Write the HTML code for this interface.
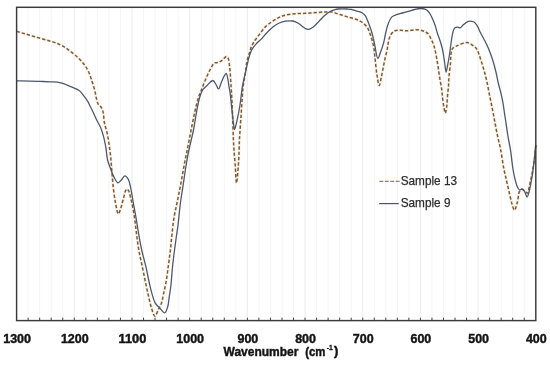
<!DOCTYPE html>
<html><head><meta charset="utf-8"><style>
html,body{margin:0;padding:0;background:#fff;width:550px;height:368px;overflow:hidden}
svg{display:block}
</style></head><body>
<svg width="550" height="368" viewBox="0 0 550 368">
<rect width="550" height="368" fill="#fff"/>
<line x1="524.26" y1="7.3" x2="524.26" y2="320.6" stroke="#f5f5f5" stroke-width="1"/><line x1="512.72" y1="7.3" x2="512.72" y2="320.6" stroke="#f5f5f5" stroke-width="1"/><line x1="501.19" y1="7.3" x2="501.19" y2="320.6" stroke="#f5f5f5" stroke-width="1"/><line x1="489.65" y1="7.3" x2="489.65" y2="320.6" stroke="#f5f5f5" stroke-width="1"/><line x1="478.11" y1="7.3" x2="478.11" y2="320.6" stroke="#ececec" stroke-width="1"/><line x1="466.57" y1="7.3" x2="466.57" y2="320.6" stroke="#f5f5f5" stroke-width="1"/><line x1="455.04" y1="7.3" x2="455.04" y2="320.6" stroke="#f5f5f5" stroke-width="1"/><line x1="443.50" y1="7.3" x2="443.50" y2="320.6" stroke="#f5f5f5" stroke-width="1"/><line x1="431.96" y1="7.3" x2="431.96" y2="320.6" stroke="#f5f5f5" stroke-width="1"/><line x1="420.42" y1="7.3" x2="420.42" y2="320.6" stroke="#ececec" stroke-width="1"/><line x1="408.88" y1="7.3" x2="408.88" y2="320.6" stroke="#f5f5f5" stroke-width="1"/><line x1="397.35" y1="7.3" x2="397.35" y2="320.6" stroke="#f5f5f5" stroke-width="1"/><line x1="385.81" y1="7.3" x2="385.81" y2="320.6" stroke="#f5f5f5" stroke-width="1"/><line x1="374.27" y1="7.3" x2="374.27" y2="320.6" stroke="#f5f5f5" stroke-width="1"/><line x1="362.73" y1="7.3" x2="362.73" y2="320.6" stroke="#ececec" stroke-width="1"/><line x1="351.20" y1="7.3" x2="351.20" y2="320.6" stroke="#f5f5f5" stroke-width="1"/><line x1="339.66" y1="7.3" x2="339.66" y2="320.6" stroke="#f5f5f5" stroke-width="1"/><line x1="328.12" y1="7.3" x2="328.12" y2="320.6" stroke="#f5f5f5" stroke-width="1"/><line x1="316.58" y1="7.3" x2="316.58" y2="320.6" stroke="#f5f5f5" stroke-width="1"/><line x1="305.04" y1="7.3" x2="305.04" y2="320.6" stroke="#ececec" stroke-width="1"/><line x1="293.51" y1="7.3" x2="293.51" y2="320.6" stroke="#f5f5f5" stroke-width="1"/><line x1="281.97" y1="7.3" x2="281.97" y2="320.6" stroke="#f5f5f5" stroke-width="1"/><line x1="270.43" y1="7.3" x2="270.43" y2="320.6" stroke="#f5f5f5" stroke-width="1"/><line x1="258.89" y1="7.3" x2="258.89" y2="320.6" stroke="#f5f5f5" stroke-width="1"/><line x1="247.36" y1="7.3" x2="247.36" y2="320.6" stroke="#ececec" stroke-width="1"/><line x1="235.82" y1="7.3" x2="235.82" y2="320.6" stroke="#f5f5f5" stroke-width="1"/><line x1="224.28" y1="7.3" x2="224.28" y2="320.6" stroke="#f5f5f5" stroke-width="1"/><line x1="212.74" y1="7.3" x2="212.74" y2="320.6" stroke="#f5f5f5" stroke-width="1"/><line x1="201.20" y1="7.3" x2="201.20" y2="320.6" stroke="#f5f5f5" stroke-width="1"/><line x1="189.67" y1="7.3" x2="189.67" y2="320.6" stroke="#ececec" stroke-width="1"/><line x1="178.13" y1="7.3" x2="178.13" y2="320.6" stroke="#f5f5f5" stroke-width="1"/><line x1="166.59" y1="7.3" x2="166.59" y2="320.6" stroke="#f5f5f5" stroke-width="1"/><line x1="155.05" y1="7.3" x2="155.05" y2="320.6" stroke="#f5f5f5" stroke-width="1"/><line x1="143.52" y1="7.3" x2="143.52" y2="320.6" stroke="#f5f5f5" stroke-width="1"/><line x1="131.98" y1="7.3" x2="131.98" y2="320.6" stroke="#ececec" stroke-width="1"/><line x1="120.44" y1="7.3" x2="120.44" y2="320.6" stroke="#f5f5f5" stroke-width="1"/><line x1="108.90" y1="7.3" x2="108.90" y2="320.6" stroke="#f5f5f5" stroke-width="1"/><line x1="97.36" y1="7.3" x2="97.36" y2="320.6" stroke="#f5f5f5" stroke-width="1"/><line x1="85.83" y1="7.3" x2="85.83" y2="320.6" stroke="#f5f5f5" stroke-width="1"/><line x1="74.29" y1="7.3" x2="74.29" y2="320.6" stroke="#ececec" stroke-width="1"/><line x1="62.75" y1="7.3" x2="62.75" y2="320.6" stroke="#f5f5f5" stroke-width="1"/><line x1="51.21" y1="7.3" x2="51.21" y2="320.6" stroke="#f5f5f5" stroke-width="1"/><line x1="39.68" y1="7.3" x2="39.68" y2="320.6" stroke="#f5f5f5" stroke-width="1"/><line x1="28.14" y1="7.3" x2="28.14" y2="320.6" stroke="#f5f5f5" stroke-width="1"/>
<path d="M16.60,31.40 C20.40,32.50 24.12,33.56 28.00,34.70 C32.05,35.89 36.36,37.22 40.40,38.40 C44.25,39.52 48.30,40.51 51.70,41.60 C54.56,42.52 57.08,43.29 59.50,44.40 C61.76,45.44 63.70,46.61 65.80,48.00 C68.10,49.51 70.52,51.46 72.70,53.20 C74.74,54.83 76.70,56.36 78.50,58.10 C80.26,59.80 81.91,61.60 83.40,63.50 C84.87,65.37 86.30,67.44 87.40,69.40 C88.39,71.17 89.14,73.01 89.80,74.70 C90.38,76.19 90.64,77.25 91.20,79.00 C92.07,81.71 93.58,85.93 94.50,89.40 C95.40,92.80 95.91,96.79 96.70,99.60 C97.27,101.64 97.62,103.52 98.50,104.80 C99.19,105.81 100.37,105.97 101.10,107.00 C102.08,108.39 102.79,110.62 103.30,112.80 C103.92,115.41 103.64,118.55 104.20,121.70 C104.85,125.38 106.35,129.44 107.20,133.50 C108.09,137.76 108.79,142.43 109.40,146.70 C109.97,150.71 110.39,154.27 110.80,158.40 C111.27,163.04 111.56,168.16 112.00,173.20 C112.46,178.48 112.86,184.15 113.50,189.40 C114.11,194.40 114.80,199.63 115.70,204.00 C116.45,207.64 117.35,213.81 118.30,213.90 C118.96,213.96 119.79,211.14 120.40,209.50 C121.12,207.57 121.63,205.07 122.20,203.00 C122.72,201.12 123.19,199.48 123.70,197.60 C124.25,195.56 124.65,192.73 125.40,191.20 C125.89,190.21 126.52,188.99 127.10,189.00 C127.75,189.01 128.56,190.64 129.10,191.80 C129.82,193.33 130.14,195.74 130.60,197.60 C131.03,199.33 131.35,200.48 131.80,202.60 C132.57,206.25 133.71,212.39 134.50,217.60 C135.36,223.22 135.95,229.59 136.70,235.20 C137.39,240.35 137.90,244.87 138.80,250.00 C139.79,255.63 141.28,261.73 142.50,267.60 C143.72,273.47 145.00,280.05 146.10,285.20 C146.96,289.24 147.65,292.36 148.50,296.00 C149.38,299.73 150.16,303.80 151.30,307.30 C152.33,310.48 153.64,316.14 154.90,316.20 C156.02,316.25 157.28,311.74 158.40,309.50 C159.51,307.28 160.77,305.24 161.60,302.80 C162.52,300.12 162.83,297.14 163.50,294.00 C164.28,290.38 165.23,286.61 166.00,282.30 C166.93,277.04 167.74,270.31 168.50,264.70 C169.19,259.58 169.83,254.91 170.40,250.00 C170.97,245.08 171.33,240.34 171.90,235.20 C172.52,229.58 173.11,223.07 174.00,217.60 C174.79,212.76 175.96,208.13 176.80,204.00 C177.50,200.55 178.08,197.62 178.70,194.50 C179.31,191.46 179.91,188.62 180.50,185.50 C181.14,182.14 181.74,178.62 182.40,175.00 C183.10,171.13 183.83,167.00 184.60,163.00 C185.37,159.00 186.23,154.87 187.00,151.00 C187.72,147.38 188.43,143.96 189.10,140.50 C189.76,137.13 190.35,133.83 191.00,130.50 C191.65,127.17 192.33,123.74 193.00,120.50 C193.63,117.42 194.25,114.41 194.90,111.50 C195.52,108.75 196.13,106.07 196.80,103.50 C197.43,101.08 198.10,98.52 198.80,96.50 C199.35,94.91 199.85,93.95 200.50,92.30 C201.43,89.96 202.65,86.65 203.80,83.80 C204.98,80.88 206.21,77.79 207.50,75.00 C208.71,72.38 210.02,69.65 211.30,67.50 C212.33,65.77 213.12,63.79 214.40,63.00 C215.46,62.35 216.85,62.92 218.10,62.50 C219.55,62.01 221.14,60.99 222.50,60.00 C223.87,59.00 225.25,56.49 226.30,56.50 C227.04,56.51 227.70,57.36 228.20,58.30 C229.09,59.97 229.19,63.15 229.60,66.50 C230.24,71.73 230.67,80.23 231.10,86.70 C231.50,92.69 231.82,98.19 232.10,104.00 C232.39,109.89 232.58,115.83 232.80,121.80 C233.02,127.83 233.16,134.84 233.40,140.00 C233.58,143.83 233.74,146.35 234.00,150.00 C234.31,154.43 234.81,159.53 235.20,164.70 C235.64,170.47 235.97,182.99 236.50,183.00 C237.03,183.01 237.96,170.47 238.40,164.70 C238.79,159.54 238.93,154.43 239.10,150.00 C239.24,146.35 239.25,143.07 239.40,140.00 C239.53,137.37 239.70,135.62 239.90,132.70 C240.20,128.34 240.63,121.84 241.00,116.40 C241.37,110.94 241.73,105.18 242.10,100.00 C242.43,95.33 242.58,91.07 243.10,86.70 C243.62,82.41 244.55,78.23 245.20,74.00 C245.85,69.80 246.19,65.20 247.00,61.40 C247.68,58.18 248.70,55.22 249.50,52.60 C250.15,50.46 250.59,48.68 251.40,46.80 C252.22,44.88 253.19,43.12 254.40,41.20 C255.81,38.97 257.70,36.65 259.50,34.30 C261.42,31.79 263.43,28.74 265.60,26.60 C267.52,24.70 269.63,23.34 271.70,21.90 C273.70,20.51 275.80,19.15 277.80,18.10 C279.59,17.16 281.05,16.45 283.10,15.80 C285.73,14.97 289.37,14.28 292.40,13.90 C295.23,13.54 297.93,13.63 300.70,13.50 C303.49,13.37 306.31,13.27 309.10,13.10 C311.88,12.93 314.79,12.69 317.40,12.50 C319.73,12.33 321.95,12.10 324.00,12.00 C325.78,11.91 327.46,11.89 329.00,11.90 C330.33,11.90 331.45,11.75 332.70,12.00 C334.08,12.27 335.38,13.09 336.90,13.60 C338.67,14.19 340.84,14.71 342.70,15.30 C344.43,15.85 345.96,16.47 347.70,17.00 C349.58,17.57 351.78,18.06 353.60,18.60 C355.18,19.07 356.53,19.34 358.00,20.00 C359.63,20.73 361.41,21.74 362.90,22.90 C364.41,24.07 365.91,25.47 367.00,27.00 C368.06,28.48 368.73,30.24 369.40,31.90 C370.05,33.51 370.47,35.10 371.00,36.80 C371.57,38.62 372.21,40.61 372.70,42.50 C373.17,44.34 373.56,45.93 373.90,48.00 C374.33,50.62 374.50,53.48 374.90,57.00 C375.47,62.01 376.15,70.01 377.00,75.20 C377.65,79.14 378.44,85.49 379.20,85.50 C379.91,85.51 380.66,80.02 381.40,76.70 C382.35,72.44 383.29,66.76 384.30,62.00 C385.26,57.47 386.60,52.39 387.30,48.80 C387.77,46.36 387.81,44.74 388.30,42.60 C388.84,40.23 389.29,37.23 390.50,35.20 C391.58,33.38 393.22,31.59 394.90,30.80 C396.42,30.08 398.15,30.33 400.00,30.30 C402.21,30.27 404.86,30.88 407.30,30.80 C409.76,30.72 412.37,29.90 414.70,29.80 C416.77,29.71 418.72,29.69 420.60,30.10 C422.45,30.50 424.55,31.46 425.90,32.20 C426.83,32.71 427.38,33.00 428.10,33.80 C429.21,35.05 430.34,37.58 431.30,39.50 C432.24,41.38 433.12,43.21 433.80,45.20 C434.50,47.27 434.87,49.22 435.40,51.70 C436.10,54.96 436.83,59.09 437.50,63.10 C438.24,67.57 438.86,72.70 439.60,77.30 C440.30,81.66 441.33,86.56 441.80,90.00 C442.12,92.33 442.14,93.64 442.40,95.90 C442.75,98.98 443.23,103.67 443.80,106.80 C444.24,109.20 444.82,113.10 445.30,113.10 C445.78,113.10 446.35,109.20 446.70,106.80 C447.16,103.68 447.18,99.53 447.50,95.90 C447.82,92.26 448.37,88.32 448.60,85.00 C448.79,82.21 448.68,80.25 448.90,77.30 C449.20,73.28 450.15,67.31 450.50,63.10 C450.78,59.74 450.57,56.63 451.00,54.00 C451.34,51.92 451.63,49.72 452.50,48.50 C453.14,47.61 454.16,47.29 455.00,46.80 C455.79,46.34 456.42,46.04 457.40,45.60 C458.88,44.93 461.30,43.80 463.10,43.30 C464.64,42.87 466.07,42.38 467.50,42.60 C469.00,42.83 470.48,43.88 471.90,44.80 C473.42,45.79 475.16,46.92 476.30,48.40 C477.47,49.91 477.99,51.75 478.80,53.80 C479.81,56.35 480.75,59.55 481.70,62.60 C482.72,65.87 483.81,69.51 484.70,72.80 C485.53,75.86 486.16,78.35 486.90,81.70 C487.85,85.98 488.82,91.50 489.80,96.40 C490.78,101.30 491.87,106.36 492.80,111.10 C493.67,115.54 494.36,119.65 495.20,124.00 C496.06,128.48 496.98,133.36 497.90,137.60 C498.72,141.36 499.58,144.10 500.40,148.20 C501.52,153.76 502.54,162.06 503.70,168.00 C504.66,172.92 505.69,176.93 506.70,181.40 C507.72,185.89 508.82,190.76 509.80,194.90 C510.64,198.43 511.31,201.93 512.20,204.70 C512.88,206.82 513.63,210.21 514.40,210.20 C515.31,210.19 516.49,205.33 517.30,202.50 C518.25,199.19 518.25,193.66 519.50,191.50 C520.18,190.32 521.11,189.34 522.00,189.30 C522.94,189.26 524.02,190.86 525.00,191.50 C525.88,192.08 526.95,193.26 527.60,193.00 C528.45,192.65 528.57,189.75 529.00,188.00 C529.47,186.10 529.87,184.00 530.30,182.00 C530.73,180.00 531.16,178.21 531.60,176.00 C532.13,173.31 532.70,170.00 533.20,167.00 C533.70,164.00 534.19,161.28 534.60,158.00 C535.09,154.07 535.40,149.33 535.80,145.00" fill="none" stroke="#fcf3e7" stroke-width="3.2" stroke-linejoin="round"/>
<path d="M16.60,31.40 C20.40,32.50 24.12,33.56 28.00,34.70 C32.05,35.89 36.36,37.22 40.40,38.40 C44.25,39.52 48.30,40.51 51.70,41.60 C54.56,42.52 57.08,43.29 59.50,44.40 C61.76,45.44 63.70,46.61 65.80,48.00 C68.10,49.51 70.52,51.46 72.70,53.20 C74.74,54.83 76.70,56.36 78.50,58.10 C80.26,59.80 81.91,61.60 83.40,63.50 C84.87,65.37 86.30,67.44 87.40,69.40 C88.39,71.17 89.14,73.01 89.80,74.70 C90.38,76.19 90.64,77.25 91.20,79.00 C92.07,81.71 93.58,85.93 94.50,89.40 C95.40,92.80 95.91,96.79 96.70,99.60 C97.27,101.64 97.62,103.52 98.50,104.80 C99.19,105.81 100.37,105.97 101.10,107.00 C102.08,108.39 102.79,110.62 103.30,112.80 C103.92,115.41 103.64,118.55 104.20,121.70 C104.85,125.38 106.35,129.44 107.20,133.50 C108.09,137.76 108.79,142.43 109.40,146.70 C109.97,150.71 110.39,154.27 110.80,158.40 C111.27,163.04 111.56,168.16 112.00,173.20 C112.46,178.48 112.86,184.15 113.50,189.40 C114.11,194.40 114.80,199.63 115.70,204.00 C116.45,207.64 117.35,213.81 118.30,213.90 C118.96,213.96 119.79,211.14 120.40,209.50 C121.12,207.57 121.63,205.07 122.20,203.00 C122.72,201.12 123.19,199.48 123.70,197.60 C124.25,195.56 124.65,192.73 125.40,191.20 C125.89,190.21 126.52,188.99 127.10,189.00 C127.75,189.01 128.56,190.64 129.10,191.80 C129.82,193.33 130.14,195.74 130.60,197.60 C131.03,199.33 131.35,200.48 131.80,202.60 C132.57,206.25 133.71,212.39 134.50,217.60 C135.36,223.22 135.95,229.59 136.70,235.20 C137.39,240.35 137.90,244.87 138.80,250.00 C139.79,255.63 141.28,261.73 142.50,267.60 C143.72,273.47 145.00,280.05 146.10,285.20 C146.96,289.24 147.65,292.36 148.50,296.00 C149.38,299.73 150.16,303.80 151.30,307.30 C152.33,310.48 153.64,316.14 154.90,316.20 C156.02,316.25 157.28,311.74 158.40,309.50 C159.51,307.28 160.77,305.24 161.60,302.80 C162.52,300.12 162.83,297.14 163.50,294.00 C164.28,290.38 165.23,286.61 166.00,282.30 C166.93,277.04 167.74,270.31 168.50,264.70 C169.19,259.58 169.83,254.91 170.40,250.00 C170.97,245.08 171.33,240.34 171.90,235.20 C172.52,229.58 173.11,223.07 174.00,217.60 C174.79,212.76 175.96,208.13 176.80,204.00 C177.50,200.55 178.08,197.62 178.70,194.50 C179.31,191.46 179.91,188.62 180.50,185.50 C181.14,182.14 181.74,178.62 182.40,175.00 C183.10,171.13 183.83,167.00 184.60,163.00 C185.37,159.00 186.23,154.87 187.00,151.00 C187.72,147.38 188.43,143.96 189.10,140.50 C189.76,137.13 190.35,133.83 191.00,130.50 C191.65,127.17 192.33,123.74 193.00,120.50 C193.63,117.42 194.25,114.41 194.90,111.50 C195.52,108.75 196.13,106.07 196.80,103.50 C197.43,101.08 198.10,98.52 198.80,96.50 C199.35,94.91 199.85,93.95 200.50,92.30 C201.43,89.96 202.65,86.65 203.80,83.80 C204.98,80.88 206.21,77.79 207.50,75.00 C208.71,72.38 210.02,69.65 211.30,67.50 C212.33,65.77 213.12,63.79 214.40,63.00 C215.46,62.35 216.85,62.92 218.10,62.50 C219.55,62.01 221.14,60.99 222.50,60.00 C223.87,59.00 225.25,56.49 226.30,56.50 C227.04,56.51 227.70,57.36 228.20,58.30 C229.09,59.97 229.19,63.15 229.60,66.50 C230.24,71.73 230.67,80.23 231.10,86.70 C231.50,92.69 231.82,98.19 232.10,104.00 C232.39,109.89 232.58,115.83 232.80,121.80 C233.02,127.83 233.16,134.84 233.40,140.00 C233.58,143.83 233.74,146.35 234.00,150.00 C234.31,154.43 234.81,159.53 235.20,164.70 C235.64,170.47 235.97,182.99 236.50,183.00 C237.03,183.01 237.96,170.47 238.40,164.70 C238.79,159.54 238.93,154.43 239.10,150.00 C239.24,146.35 239.25,143.07 239.40,140.00 C239.53,137.37 239.70,135.62 239.90,132.70 C240.20,128.34 240.63,121.84 241.00,116.40 C241.37,110.94 241.73,105.18 242.10,100.00 C242.43,95.33 242.58,91.07 243.10,86.70 C243.62,82.41 244.55,78.23 245.20,74.00 C245.85,69.80 246.19,65.20 247.00,61.40 C247.68,58.18 248.70,55.22 249.50,52.60 C250.15,50.46 250.59,48.68 251.40,46.80 C252.22,44.88 253.19,43.12 254.40,41.20 C255.81,38.97 257.70,36.65 259.50,34.30 C261.42,31.79 263.43,28.74 265.60,26.60 C267.52,24.70 269.63,23.34 271.70,21.90 C273.70,20.51 275.80,19.15 277.80,18.10 C279.59,17.16 281.05,16.45 283.10,15.80 C285.73,14.97 289.37,14.28 292.40,13.90 C295.23,13.54 297.93,13.63 300.70,13.50 C303.49,13.37 306.31,13.27 309.10,13.10 C311.88,12.93 314.79,12.69 317.40,12.50 C319.73,12.33 321.95,12.10 324.00,12.00 C325.78,11.91 327.46,11.89 329.00,11.90 C330.33,11.90 331.45,11.75 332.70,12.00 C334.08,12.27 335.38,13.09 336.90,13.60 C338.67,14.19 340.84,14.71 342.70,15.30 C344.43,15.85 345.96,16.47 347.70,17.00 C349.58,17.57 351.78,18.06 353.60,18.60 C355.18,19.07 356.53,19.34 358.00,20.00 C359.63,20.73 361.41,21.74 362.90,22.90 C364.41,24.07 365.91,25.47 367.00,27.00 C368.06,28.48 368.73,30.24 369.40,31.90 C370.05,33.51 370.47,35.10 371.00,36.80 C371.57,38.62 372.21,40.61 372.70,42.50 C373.17,44.34 373.56,45.93 373.90,48.00 C374.33,50.62 374.50,53.48 374.90,57.00 C375.47,62.01 376.15,70.01 377.00,75.20 C377.65,79.14 378.44,85.49 379.20,85.50 C379.91,85.51 380.66,80.02 381.40,76.70 C382.35,72.44 383.29,66.76 384.30,62.00 C385.26,57.47 386.60,52.39 387.30,48.80 C387.77,46.36 387.81,44.74 388.30,42.60 C388.84,40.23 389.29,37.23 390.50,35.20 C391.58,33.38 393.22,31.59 394.90,30.80 C396.42,30.08 398.15,30.33 400.00,30.30 C402.21,30.27 404.86,30.88 407.30,30.80 C409.76,30.72 412.37,29.90 414.70,29.80 C416.77,29.71 418.72,29.69 420.60,30.10 C422.45,30.50 424.55,31.46 425.90,32.20 C426.83,32.71 427.38,33.00 428.10,33.80 C429.21,35.05 430.34,37.58 431.30,39.50 C432.24,41.38 433.12,43.21 433.80,45.20 C434.50,47.27 434.87,49.22 435.40,51.70 C436.10,54.96 436.83,59.09 437.50,63.10 C438.24,67.57 438.86,72.70 439.60,77.30 C440.30,81.66 441.33,86.56 441.80,90.00 C442.12,92.33 442.14,93.64 442.40,95.90 C442.75,98.98 443.23,103.67 443.80,106.80 C444.24,109.20 444.82,113.10 445.30,113.10 C445.78,113.10 446.35,109.20 446.70,106.80 C447.16,103.68 447.18,99.53 447.50,95.90 C447.82,92.26 448.37,88.32 448.60,85.00 C448.79,82.21 448.68,80.25 448.90,77.30 C449.20,73.28 450.15,67.31 450.50,63.10 C450.78,59.74 450.57,56.63 451.00,54.00 C451.34,51.92 451.63,49.72 452.50,48.50 C453.14,47.61 454.16,47.29 455.00,46.80 C455.79,46.34 456.42,46.04 457.40,45.60 C458.88,44.93 461.30,43.80 463.10,43.30 C464.64,42.87 466.07,42.38 467.50,42.60 C469.00,42.83 470.48,43.88 471.90,44.80 C473.42,45.79 475.16,46.92 476.30,48.40 C477.47,49.91 477.99,51.75 478.80,53.80 C479.81,56.35 480.75,59.55 481.70,62.60 C482.72,65.87 483.81,69.51 484.70,72.80 C485.53,75.86 486.16,78.35 486.90,81.70 C487.85,85.98 488.82,91.50 489.80,96.40 C490.78,101.30 491.87,106.36 492.80,111.10 C493.67,115.54 494.36,119.65 495.20,124.00 C496.06,128.48 496.98,133.36 497.90,137.60 C498.72,141.36 499.58,144.10 500.40,148.20 C501.52,153.76 502.54,162.06 503.70,168.00 C504.66,172.92 505.69,176.93 506.70,181.40 C507.72,185.89 508.82,190.76 509.80,194.90 C510.64,198.43 511.31,201.93 512.20,204.70 C512.88,206.82 513.63,210.21 514.40,210.20 C515.31,210.19 516.49,205.33 517.30,202.50 C518.25,199.19 518.25,193.66 519.50,191.50 C520.18,190.32 521.11,189.34 522.00,189.30 C522.94,189.26 524.02,190.86 525.00,191.50 C525.88,192.08 526.95,193.26 527.60,193.00 C528.45,192.65 528.57,189.75 529.00,188.00 C529.47,186.10 529.87,184.00 530.30,182.00 C530.73,180.00 531.16,178.21 531.60,176.00 C532.13,173.31 532.70,170.00 533.20,167.00 C533.70,164.00 534.19,161.28 534.60,158.00 C535.09,154.07 535.40,149.33 535.80,145.00" fill="none" stroke="#7a5b3d" stroke-width="1.5" stroke-dasharray="3.3,2" stroke-linejoin="round"/>
<path d="M16.60,80.80 C21.07,80.90 25.84,80.99 30.00,81.10 C33.63,81.19 36.83,81.28 40.20,81.40 C43.50,81.52 46.96,81.68 50.00,81.80 C52.64,81.91 55.24,81.80 57.40,82.10 C59.13,82.34 60.48,82.74 62.00,83.20 C63.55,83.67 65.07,84.29 66.60,84.90 C68.17,85.52 69.74,86.25 71.30,86.90 C72.84,87.55 74.57,88.19 75.90,88.80 C76.96,89.28 77.89,89.69 78.70,90.20 C79.39,90.64 79.93,91.03 80.50,91.60 C81.14,92.24 81.64,93.04 82.30,93.90 C83.13,94.98 84.18,96.32 85.10,97.60 C86.05,98.92 87.01,100.19 87.90,101.70 C88.89,103.39 89.76,105.41 90.70,107.30 C91.66,109.24 92.69,111.25 93.60,113.20 C94.48,115.08 95.11,116.74 96.10,118.80 C97.35,121.42 99.35,124.62 100.60,127.60 C101.81,130.49 102.67,133.33 103.50,136.40 C104.39,139.68 105.05,143.04 105.70,146.70 C106.44,150.84 106.66,156.06 107.60,160.00 C108.39,163.28 109.57,166.02 110.60,168.80 C111.54,171.36 112.29,173.78 113.50,176.10 C114.72,178.45 116.45,182.55 117.90,182.80 C118.88,182.97 119.80,181.53 120.80,180.60 C122.11,179.38 123.58,175.96 124.90,175.90 C126.03,175.85 127.33,177.67 128.20,179.10 C129.32,180.94 129.73,183.57 130.40,186.40 C131.31,190.21 131.94,195.18 132.80,200.00 C133.78,205.49 134.98,211.73 136.00,217.60 C137.02,223.46 137.91,229.59 138.90,235.20 C139.81,240.35 140.57,244.87 141.70,250.00 C142.94,255.63 144.75,261.72 146.10,267.60 C147.45,273.45 148.71,280.50 149.80,285.20 C150.53,288.36 150.99,290.34 151.80,293.10 C152.72,296.21 153.59,300.31 155.10,302.90 C156.31,304.97 157.94,306.17 159.50,307.80 C161.14,309.51 163.33,313.12 164.70,312.90 C165.98,312.70 166.87,309.55 167.60,307.30 C168.57,304.33 168.75,300.03 169.30,296.40 C169.85,292.77 170.43,289.57 170.90,285.50 C171.50,280.36 171.81,273.79 172.40,268.00 C172.98,262.29 173.72,256.39 174.40,251.00 C175.02,246.10 175.68,241.49 176.30,237.00 C176.88,232.85 177.43,229.56 178.00,225.00 C178.76,218.98 179.60,209.53 180.30,204.00 C180.76,200.37 181.16,197.94 181.60,195.00 C182.03,192.18 182.44,189.73 182.90,186.70 C183.46,183.02 184.08,178.55 184.70,174.50 C185.31,170.48 185.93,166.45 186.60,162.50 C187.26,158.62 187.93,154.74 188.70,151.00 C189.44,147.41 190.30,144.00 191.10,140.50 C191.90,137.00 192.72,133.94 193.50,130.00 C194.50,124.98 195.36,118.31 196.40,112.80 C197.37,107.67 198.27,102.14 199.50,98.00 C200.42,94.88 201.16,92.23 202.60,90.00 C203.90,87.98 205.80,86.59 207.50,85.00 C209.20,83.42 211.32,80.36 212.80,80.50 C214.07,80.62 215.05,83.10 216.00,84.50 C216.95,85.90 217.70,88.94 218.50,88.90 C219.41,88.85 220.21,85.02 221.10,83.00 C222.04,80.86 223.00,78.11 224.00,76.40 C224.71,75.19 225.61,73.40 226.20,73.50 C226.89,73.62 227.28,76.41 227.70,78.20 C228.23,80.50 228.47,83.54 228.90,86.20 C229.33,88.84 229.91,91.31 230.30,94.10 C230.73,97.21 230.95,100.68 231.30,104.00 C231.65,107.38 232.02,110.88 232.40,114.20 C232.76,117.37 233.08,120.74 233.50,123.50 C233.84,125.72 234.10,129.48 234.60,129.50 C235.25,129.52 236.38,123.21 237.20,119.60 C238.17,115.33 239.08,110.55 239.90,105.50 C240.84,99.70 241.37,92.56 242.40,86.70 C243.31,81.48 244.73,75.97 245.60,72.00 C246.19,69.30 246.52,67.66 247.10,65.20 C247.79,62.27 248.53,58.50 249.50,55.60 C250.34,53.08 251.20,50.73 252.40,48.70 C253.50,46.84 254.84,45.41 256.30,43.80 C257.90,42.04 259.94,40.44 261.70,38.60 C263.54,36.68 265.20,34.46 267.10,32.50 C269.03,30.52 271.08,28.42 273.20,26.80 C275.16,25.29 277.19,23.94 279.30,23.00 C281.30,22.11 283.33,21.54 285.50,21.20 C287.81,20.84 290.54,20.57 292.80,21.00 C294.92,21.40 297.02,22.49 298.70,23.50 C300.15,24.37 301.20,25.61 302.40,26.50 C303.46,27.29 304.41,28.13 305.50,28.60 C306.52,29.04 307.56,29.44 308.70,29.30 C310.12,29.12 311.77,28.11 313.30,27.00 C315.24,25.59 317.15,23.06 319.10,21.10 C321.05,19.13 323.03,16.87 325.00,15.20 C326.73,13.74 328.50,12.41 330.20,11.50 C331.62,10.74 332.99,10.32 334.40,9.90 C335.76,9.49 337.12,9.18 338.50,9.00 C339.88,8.82 341.30,8.80 342.70,8.80 C344.10,8.80 345.50,8.90 346.90,9.00 C348.30,9.10 349.71,9.12 351.10,9.40 C352.51,9.68 353.98,10.34 355.30,10.70 C356.46,11.02 357.50,11.16 358.60,11.50 C359.74,11.85 360.93,12.15 362.00,12.80 C363.18,13.51 364.42,14.53 365.30,15.70 C366.21,16.91 366.65,18.48 367.30,20.00 C368.02,21.66 368.69,23.38 369.40,25.30 C370.23,27.55 371.20,30.30 371.90,32.70 C372.55,34.92 373.01,37.05 373.50,39.20 C373.98,41.31 374.25,43.03 374.80,45.50 C375.59,49.04 376.74,58.31 377.90,58.40 C378.76,58.47 379.80,54.10 380.70,51.70 C381.71,48.98 382.80,45.86 383.60,42.90 C384.39,39.96 384.76,37.08 385.50,34.00 C386.31,30.63 387.09,26.53 388.30,23.50 C389.31,20.98 390.36,18.38 391.90,16.90 C393.14,15.70 394.87,15.26 396.30,14.70 C397.56,14.20 398.56,14.00 400.00,13.60 C402.02,13.04 404.86,12.38 407.30,11.70 C409.76,11.01 412.36,10.04 414.70,9.50 C416.76,9.02 418.78,8.53 420.60,8.50 C422.17,8.47 423.76,8.66 425.00,9.10 C426.03,9.47 426.80,9.98 427.60,10.70 C428.53,11.54 429.32,12.75 430.10,14.00 C431.01,15.46 431.81,17.24 432.60,19.00 C433.45,20.89 434.27,22.89 435.00,25.00 C435.78,27.27 436.32,29.74 437.10,32.20 C437.94,34.83 439.03,37.58 439.90,40.30 C440.77,43.01 441.68,45.91 442.30,48.50 C442.84,50.78 443.12,52.72 443.50,55.00 C443.92,57.52 444.28,60.24 444.70,63.00 C445.15,65.96 445.56,72.18 446.10,72.20 C446.60,72.21 447.29,66.80 447.80,64.20 C448.28,61.74 448.73,59.18 449.10,57.00 C449.41,55.18 449.64,53.81 449.90,52.00 C450.21,49.86 450.46,47.46 450.80,45.00 C451.18,42.23 451.61,38.81 452.10,36.20 C452.50,34.09 452.80,32.01 453.40,30.50 C453.84,29.39 454.23,28.35 455.00,27.80 C455.76,27.26 457.08,27.15 458.00,27.20 C458.80,27.24 459.47,28.08 460.20,27.90 C461.17,27.66 461.95,25.98 463.10,25.00 C464.54,23.78 466.64,21.83 468.30,21.30 C469.54,20.90 470.82,21.11 471.90,21.30 C472.82,21.46 473.61,21.63 474.40,22.20 C475.45,22.96 476.39,24.43 477.30,25.90 C478.43,27.73 479.27,30.24 480.40,32.50 C481.62,34.94 483.09,37.40 484.40,40.00 C485.79,42.75 487.20,45.52 488.50,48.60 C489.95,52.03 491.41,56.00 492.60,59.70 C493.76,63.30 494.66,66.68 495.60,70.50 C496.64,74.73 497.51,79.87 498.50,84.00 C499.35,87.54 500.33,90.52 501.10,93.80 C501.86,97.06 502.53,100.33 503.10,103.60 C503.66,106.83 504.06,110.31 504.50,113.30 C504.88,115.88 505.16,117.59 505.60,120.50 C506.28,124.99 507.31,132.30 508.20,137.60 C508.98,142.24 509.88,145.94 510.60,150.60 C511.43,155.97 512.01,163.04 512.80,168.00 C513.40,171.74 513.95,174.66 514.70,177.80 C515.40,180.75 516.08,184.11 517.10,186.30 C517.82,187.86 518.64,189.71 519.60,190.00 C520.33,190.22 521.24,188.87 522.00,189.00 C522.85,189.15 523.67,190.19 524.40,191.20 C525.43,192.62 526.31,197.13 527.10,197.10 C527.82,197.07 528.43,193.95 529.00,192.00 C529.74,189.49 530.32,186.17 530.90,183.20 C531.49,180.17 532.01,177.28 532.50,174.00 C533.06,170.27 533.50,166.35 534.00,162.00 C534.60,156.83 535.20,150.67 535.80,145.00" fill="none" stroke="#4d586c" stroke-width="1.3" stroke-linejoin="round"/>
<rect x="16.6" y="7.3" width="519.20" height="313.30" fill="none" stroke="#3a3a3a" stroke-width="1.45"/>
<line x1="524.26" y1="317.7" x2="524.26" y2="320.6" stroke="#404040" stroke-width="1"/><line x1="512.72" y1="317.7" x2="512.72" y2="320.6" stroke="#404040" stroke-width="1"/><line x1="501.19" y1="317.7" x2="501.19" y2="320.6" stroke="#404040" stroke-width="1"/><line x1="489.65" y1="317.7" x2="489.65" y2="320.6" stroke="#404040" stroke-width="1"/><line x1="478.11" y1="317.7" x2="478.11" y2="320.6" stroke="#404040" stroke-width="1"/><line x1="466.57" y1="317.7" x2="466.57" y2="320.6" stroke="#404040" stroke-width="1"/><line x1="455.04" y1="317.7" x2="455.04" y2="320.6" stroke="#404040" stroke-width="1"/><line x1="443.50" y1="317.7" x2="443.50" y2="320.6" stroke="#404040" stroke-width="1"/><line x1="431.96" y1="317.7" x2="431.96" y2="320.6" stroke="#404040" stroke-width="1"/><line x1="420.42" y1="317.7" x2="420.42" y2="320.6" stroke="#404040" stroke-width="1"/><line x1="408.88" y1="317.7" x2="408.88" y2="320.6" stroke="#404040" stroke-width="1"/><line x1="397.35" y1="317.7" x2="397.35" y2="320.6" stroke="#404040" stroke-width="1"/><line x1="385.81" y1="317.7" x2="385.81" y2="320.6" stroke="#404040" stroke-width="1"/><line x1="374.27" y1="317.7" x2="374.27" y2="320.6" stroke="#404040" stroke-width="1"/><line x1="362.73" y1="317.7" x2="362.73" y2="320.6" stroke="#404040" stroke-width="1"/><line x1="351.20" y1="317.7" x2="351.20" y2="320.6" stroke="#404040" stroke-width="1"/><line x1="339.66" y1="317.7" x2="339.66" y2="320.6" stroke="#404040" stroke-width="1"/><line x1="328.12" y1="317.7" x2="328.12" y2="320.6" stroke="#404040" stroke-width="1"/><line x1="316.58" y1="317.7" x2="316.58" y2="320.6" stroke="#404040" stroke-width="1"/><line x1="305.04" y1="317.7" x2="305.04" y2="320.6" stroke="#404040" stroke-width="1"/><line x1="293.51" y1="317.7" x2="293.51" y2="320.6" stroke="#404040" stroke-width="1"/><line x1="281.97" y1="317.7" x2="281.97" y2="320.6" stroke="#404040" stroke-width="1"/><line x1="270.43" y1="317.7" x2="270.43" y2="320.6" stroke="#404040" stroke-width="1"/><line x1="258.89" y1="317.7" x2="258.89" y2="320.6" stroke="#404040" stroke-width="1"/><line x1="247.36" y1="317.7" x2="247.36" y2="320.6" stroke="#404040" stroke-width="1"/><line x1="235.82" y1="317.7" x2="235.82" y2="320.6" stroke="#404040" stroke-width="1"/><line x1="224.28" y1="317.7" x2="224.28" y2="320.6" stroke="#404040" stroke-width="1"/><line x1="212.74" y1="317.7" x2="212.74" y2="320.6" stroke="#404040" stroke-width="1"/><line x1="201.20" y1="317.7" x2="201.20" y2="320.6" stroke="#404040" stroke-width="1"/><line x1="189.67" y1="317.7" x2="189.67" y2="320.6" stroke="#404040" stroke-width="1"/><line x1="178.13" y1="317.7" x2="178.13" y2="320.6" stroke="#404040" stroke-width="1"/><line x1="166.59" y1="317.7" x2="166.59" y2="320.6" stroke="#404040" stroke-width="1"/><line x1="155.05" y1="317.7" x2="155.05" y2="320.6" stroke="#404040" stroke-width="1"/><line x1="143.52" y1="317.7" x2="143.52" y2="320.6" stroke="#404040" stroke-width="1"/><line x1="131.98" y1="317.7" x2="131.98" y2="320.6" stroke="#404040" stroke-width="1"/><line x1="120.44" y1="317.7" x2="120.44" y2="320.6" stroke="#404040" stroke-width="1"/><line x1="108.90" y1="317.7" x2="108.90" y2="320.6" stroke="#404040" stroke-width="1"/><line x1="97.36" y1="317.7" x2="97.36" y2="320.6" stroke="#404040" stroke-width="1"/><line x1="85.83" y1="317.7" x2="85.83" y2="320.6" stroke="#404040" stroke-width="1"/><line x1="74.29" y1="317.7" x2="74.29" y2="320.6" stroke="#404040" stroke-width="1"/><line x1="62.75" y1="317.7" x2="62.75" y2="320.6" stroke="#404040" stroke-width="1"/><line x1="51.21" y1="317.7" x2="51.21" y2="320.6" stroke="#404040" stroke-width="1"/><line x1="39.68" y1="317.7" x2="39.68" y2="320.6" stroke="#404040" stroke-width="1"/><line x1="28.14" y1="317.7" x2="28.14" y2="320.6" stroke="#404040" stroke-width="1"/>
<g font-family="'Liberation Sans', sans-serif" font-weight="bold" font-size="13" fill="#141414" stroke="#141414" stroke-width="0.45">
<text x="536.30" y="342.5" text-anchor="middle" textLength="20.8" lengthAdjust="spacingAndGlyphs">400</text><text x="478.61" y="342.5" text-anchor="middle" textLength="20.8" lengthAdjust="spacingAndGlyphs">500</text><text x="420.92" y="342.5" text-anchor="middle" textLength="20.8" lengthAdjust="spacingAndGlyphs">600</text><text x="363.23" y="342.5" text-anchor="middle" textLength="20.8" lengthAdjust="spacingAndGlyphs">700</text><text x="305.54" y="342.5" text-anchor="middle" textLength="20.8" lengthAdjust="spacingAndGlyphs">800</text><text x="247.86" y="342.5" text-anchor="middle" textLength="20.8" lengthAdjust="spacingAndGlyphs">900</text><text x="190.17" y="342.5" text-anchor="middle" textLength="27.8" lengthAdjust="spacingAndGlyphs">1000</text><text x="132.48" y="342.5" text-anchor="middle" textLength="27.8" lengthAdjust="spacingAndGlyphs">1100</text><text x="74.79" y="342.5" text-anchor="middle" textLength="27.8" lengthAdjust="spacingAndGlyphs">1200</text><text x="17.10" y="342.5" text-anchor="middle" textLength="27.8" lengthAdjust="spacingAndGlyphs">1300</text>
<text x="223.6" y="355.6" textLength="74.8" lengthAdjust="spacingAndGlyphs">Wavenumber</text>
<text x="305.2" y="355.6" textLength="20.3" lengthAdjust="spacingAndGlyphs">(cm</text>
<text x="326.8" y="349.8" font-size="7.4" stroke-width="0.3" textLength="6" lengthAdjust="spacingAndGlyphs">-1</text>
<text x="334.1" y="355.4">)</text>
</g>
<line x1="379.4" y1="181.4" x2="399.6" y2="181.4" stroke="#9a7e60" stroke-width="1.25" stroke-dasharray="3.9,1.55"/>
<line x1="379.1" y1="203.6" x2="398.7" y2="203.6" stroke="#4a5468" stroke-width="1.2"/>
<g font-family="'Liberation Sans', sans-serif" font-size="12.4" fill="#2e2e2e" stroke="#2e2e2e" stroke-width="0.25">
<text x="400.7" y="185.3" textLength="56.3" lengthAdjust="spacingAndGlyphs">Sample 13</text>
<text x="400.7" y="207.4" textLength="49.8" lengthAdjust="spacingAndGlyphs">Sample 9</text>
</g>
</svg>
</body></html>
